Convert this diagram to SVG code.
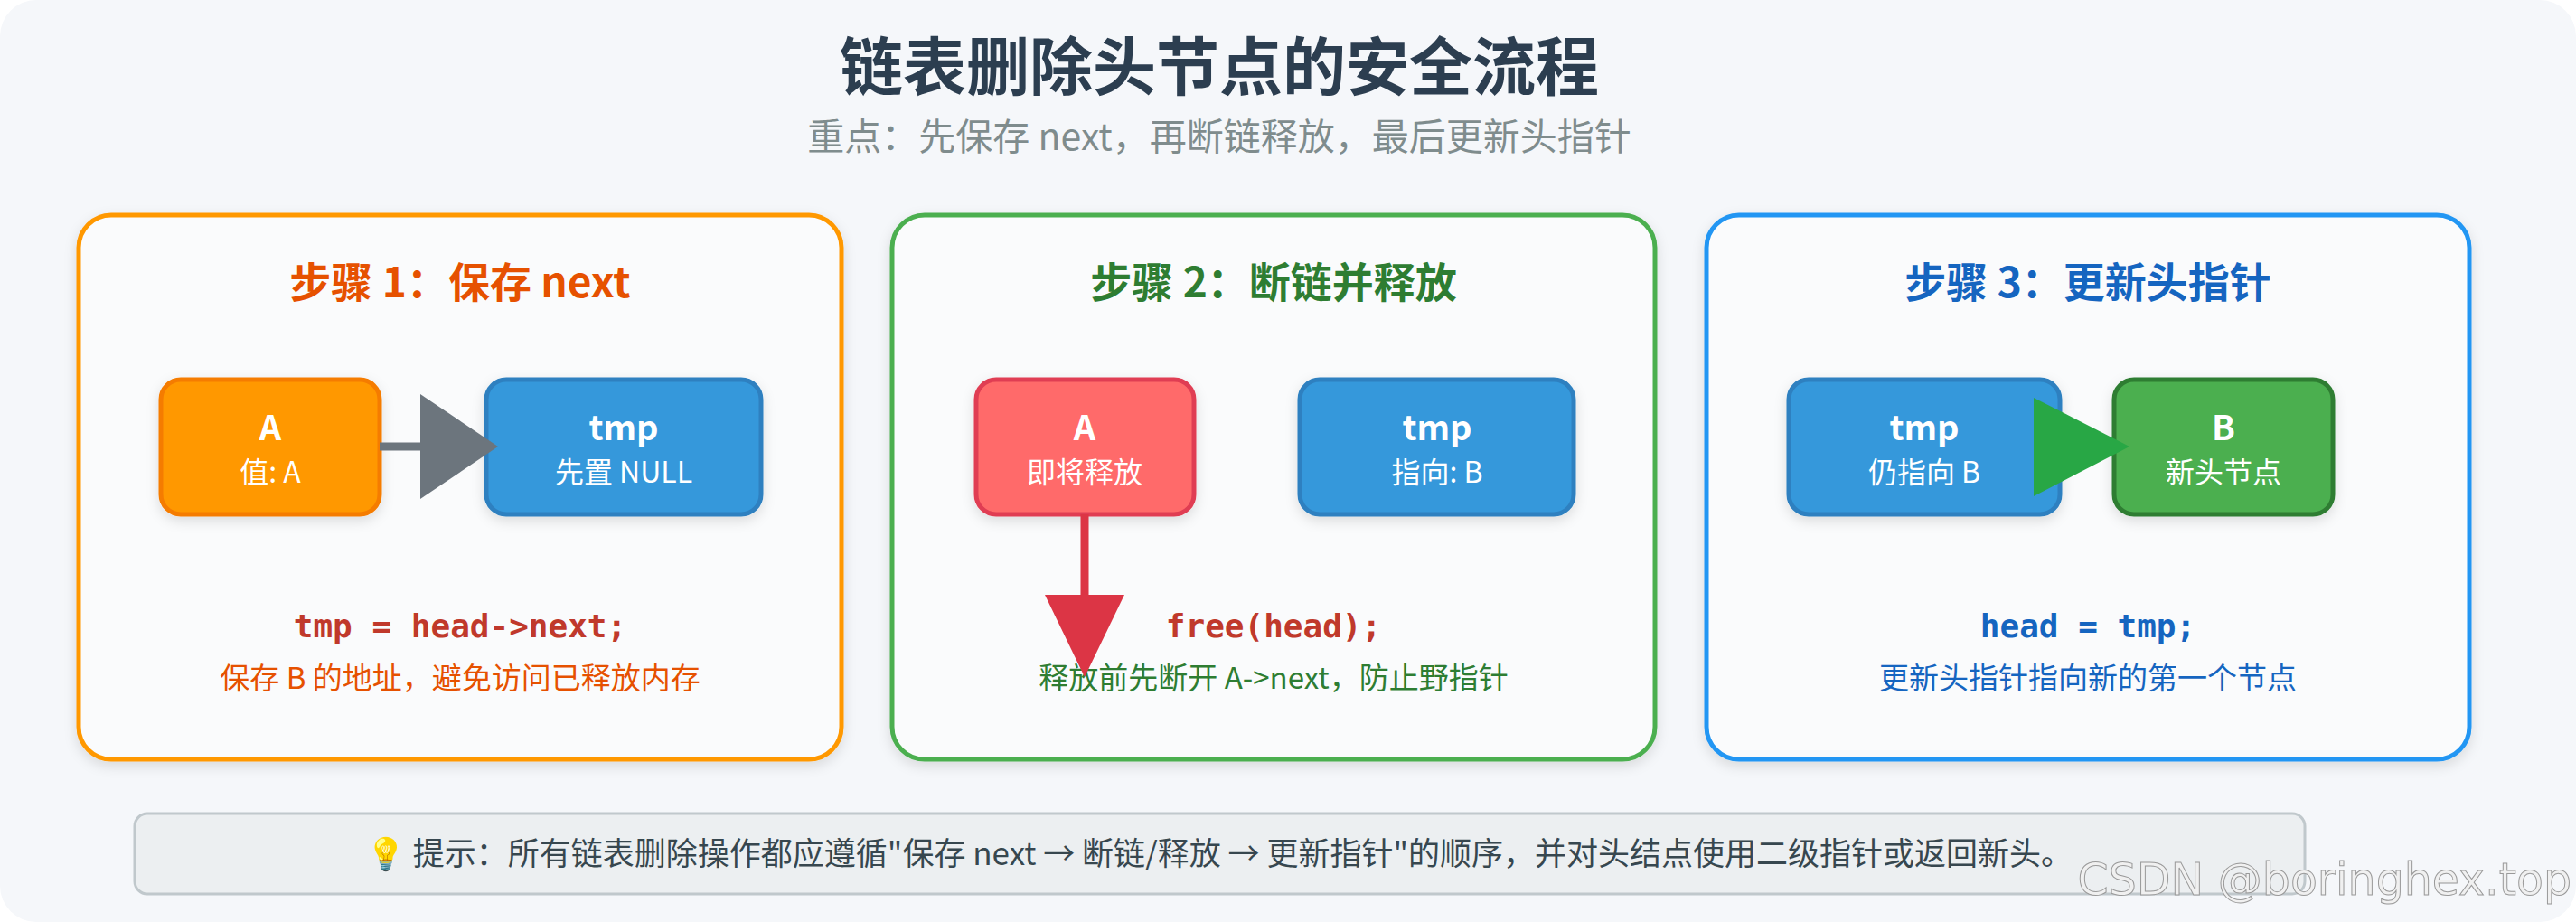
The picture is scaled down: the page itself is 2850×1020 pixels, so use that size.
<svg xmlns="http://www.w3.org/2000/svg" width="2850" height="1020" viewBox="0 0 2850 1020">
<defs>
<style>
text{font-family:"Noto Sans CJK SC","Noto Sans",sans-serif;text-anchor:middle}
.t{font-size:70px;font-weight:bold;fill:#2c3e50}
.st{font-size:41px;fill:#7f8c8d}
.pt{font-size:46px;font-weight:bold}
.n{font-size:38px;font-weight:bold;fill:#fff}
.ns{font-size:32px;fill:#fff}
.code{font-family:"DejaVu Sans Mono","Liberation Mono",monospace;font-size:36px;font-weight:bold}
.d{font-size:33px}
.panel{fill:#fafbfc;stroke-width:5}
.node{stroke-width:5}
</style>
<filter id="sh" x="-10%" y="-10%" width="120%" height="130%"><feDropShadow dx="0" dy="5" stdDeviation="7" flood-color="#000" flood-opacity="0.12"/></filter>
</defs>
<rect x="0" y="0" width="2850" height="1020" rx="40" fill="#f5f7fa"/>
<g id="title"><text x="1349" y="100" class="t">链表删除头节点的安全流程</text>
<text x="1349" y="166" class="st">重点：先保存 next，再断链释放，最后更新头指针</text></g>

<g id="panel1"><rect x="87" y="238" width="844" height="602" rx="36" class="panel" stroke="#ff9800" filter="url(#sh)"/>
<text x="509" y="329" class="pt" fill="#e65100">步骤 1：保存 next</text>
<text x="509" y="705" class="code" fill="#c0392b">tmp = head-&gt;next;</text>
<text x="509" y="762" class="d" fill="#e65100">保存 B 的地址，避免访问已释放内存</text></g>
<g id="p1A"><rect x="178" y="420" width="242" height="149" rx="22" class="node" fill="#ff9800" stroke="#f57c00" filter="url(#sh)"/>
<text x="299" y="487" class="n">A</text><text x="299" y="534" class="ns">值: A</text></g>
<g id="p1tmp"><rect x="538" y="420" width="304" height="149" rx="22" class="node" fill="#3498db" stroke="#2e80c0" filter="url(#sh)"/>
<text x="690" y="487" class="n">tmp</text><text x="690" y="534" class="ns">先置 NULL</text></g>

<g id="panel2"><rect x="987" y="238" width="844" height="602" rx="36" class="panel" stroke="#4caf50" filter="url(#sh)"/>
<text x="1409" y="329" class="pt" fill="#2e7d32">步骤 2：断链并释放</text>
<text x="1409" y="705" class="code" fill="#c0392b">free(head);</text>
<text x="1409" y="762" class="d" fill="#2e7d32">释放前先断开 A-&gt;next，防止野指针</text></g>
<g id="p2A"><rect x="1080" y="420" width="241" height="149" rx="22" class="node" fill="#ff6b6b" stroke="#e03e52" filter="url(#sh)"/>
<text x="1200" y="487" class="n">A</text><text x="1200" y="534" class="ns">即将释放</text></g>
<g id="p2tmp"><rect x="1438" y="420" width="303" height="149" rx="22" class="node" fill="#3498db" stroke="#2e80c0" filter="url(#sh)"/>
<text x="1590" y="487" class="n">tmp</text><text x="1590" y="534" class="ns">指向: B</text></g>

<g id="panel3"><rect x="1888" y="238" width="844" height="602" rx="36" class="panel" stroke="#2196f3" filter="url(#sh)"/>
<text x="2310" y="329" class="pt" fill="#1565c0">步骤 3：更新头指针</text>
<text x="2310" y="705" class="code" fill="#1565c0">head = tmp;</text>
<text x="2310" y="762" class="d" fill="#1565c0">更新头指针指向新的第一个节点</text></g>
<g id="p3tmp"><rect x="1979" y="420" width="300" height="149" rx="22" class="node" fill="#3498db" stroke="#2e80c0" filter="url(#sh)"/>
<text x="2129" y="487" class="n">tmp</text><text x="2129" y="534" class="ns">仍指向 B</text></g>
<g id="p3B"><rect x="2339" y="420" width="242" height="149" rx="22" class="node" fill="#4caf50" stroke="#2e7d32" filter="url(#sh)"/>
<text x="2460" y="487" class="n">B</text><text x="2460" y="534" class="ns">新头节点</text></g>

<g id="connectors">
<line x1="420" y1="494" x2="470" y2="494" stroke="#6c757d" stroke-width="9"/>
<polygon points="465,436 551,494 465,552" fill="#6c757d"/>
<line x1="1200" y1="569" x2="1200" y2="665" stroke="#dc3545" stroke-width="9"/>
<polygon points="1156,658 1244,658 1200,749" fill="#dc3545"/>
<polygon points="2250,440 2356,494 2250,549" fill="#28a745"/>
</g>

<g id="footer"><rect x="149" y="900" width="2401" height="89" rx="14" fill="#eceff1" stroke="#c0c8cc" stroke-width="3"/>
<text x="1349" y="957" style="font-size:35px;fill:#37474f">💡 提示：所有链表删除操作都应遵循"保存 next → 断链/释放 → 更新指针"的顺序，并对头结点使用二级指针或返回新头。</text></g>
<text x="2845" y="990" style="font-size:49px;fill:#f0f0f0;stroke:#999;stroke-width:1;text-anchor:end;font-family:'DejaVu Sans',sans-serif">CSDN @boringhex.top</text>
</svg>
